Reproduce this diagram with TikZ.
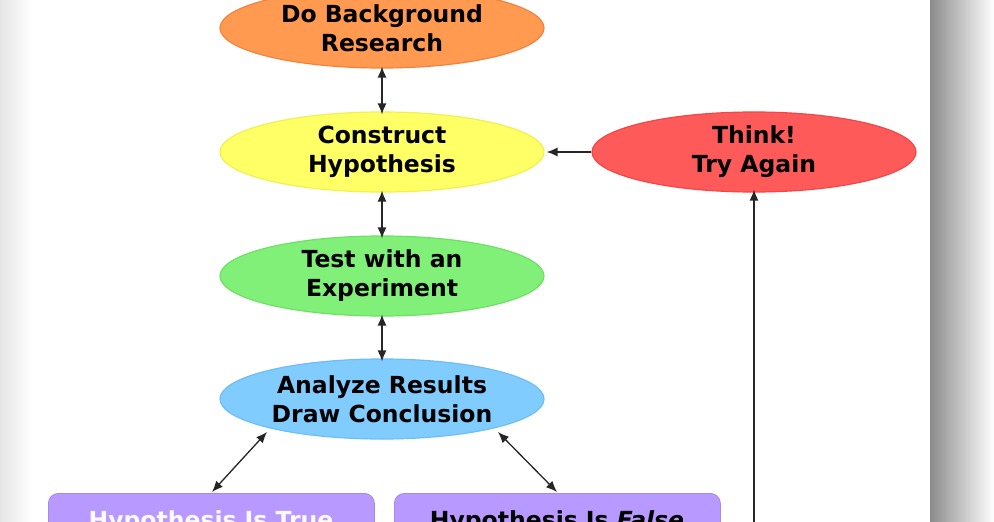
\documentclass[tikz,border=0pt]{standalone}
\usepackage{fontspec}
\setmainfont{DejaVu Sans}
\usetikzlibrary{shapes.geometric,arrows.meta}
\begin{document}
\begin{tikzpicture}[x=1pt,y=-1pt,
  ell/.style={ellipse,minimum width=324pt,minimum height=80pt,inner sep=0pt,align=center,font=\fontsize{23.5}{29}\selectfont\bfseries,line width=1.2pt},
  box/.style={rounded corners=10pt,fill=purp,draw=purp!90!black,line width=0.8pt,minimum width=326pt,minimum height=60pt,anchor=north west},
  dbl/.style={{Latex[length=11pt,width=9pt]}-{Latex[length=11pt,width=9pt]},line width=1.3pt,black!85},
  sgl/.style={-{Latex[length=11pt,width=9pt]},line width=1.3pt,black!85}]
\definecolor{purp}{HTML}{B899FF}
\useasboundingbox (0,0) rectangle (994,522);
\shade[left color=black!10,right color=white] (0,0) rectangle (32,522);
\shade[left color=black!45,right color=white] (930,0) rectangle (994,522);
\fill[white] (32,0) rectangle (930,522);
\begin{scope}
\clip (32,0) rectangle (930,522);
\node[ell,fill={rgb,255:red,255;green,154;blue,80},draw={rgb,255:red,245;green,130;blue,60}] (bg) at (382,28) {Do Background\\Research};
\node[ell,fill={rgb,255:red,255;green,255;blue,102},draw={rgb,255:red,240;green,240;blue,80}] (hy) at (382,152) {Construct\\Hypothesis};
\node[ell,fill={rgb,255:red,128;green,240;blue,120},draw={rgb,255:red,110;green,225;blue,100}] (ex) at (382,276) {Test with an\\Experiment};
\node[ell,fill={rgb,255:red,128;green,204;blue,255},draw={rgb,255:red,110;green,190;blue,245}] (an) at (382,399) {Analyze Results\\Draw Conclusion};
\node[ell,fill={rgb,255:red,255;green,90;blue,90},draw={rgb,255:red,245;green,70;blue,70}] (tk) at (754,152) {Think!\\Try Again};
\node[box] (tr) at (48,493) {};
\node[box] (fa) at (394,493) {};
\node[font=\fontsize{23.5}{29}\selectfont\bfseries,text=white!95!purp,anchor=base] (trt) at (211,528) {Hypothesis Is True};
\node[font=\fontsize{23.5}{29}\selectfont\bfseries,anchor=base] (fat) at (557,528) {Hypothesis Is \textit{False}};
\coordinate (bot) at (754,522);
\coordinate (al) at (267,432);
\coordinate (ar) at (498,432);
\coordinate (tl) at (212,492);
\coordinate (tr2) at (557,492);
\draw[dbl] ([yshift=2pt]bg.south) -- ([yshift=-3pt]hy.north);
\draw[dbl] ([yshift=2pt]hy.south) -- ([yshift=-3pt]ex.north);
\draw[dbl] ([yshift=2pt]ex.south) -- ([yshift=-3pt]an.north);
\draw[sgl] (tk.west) -- ([xshift=2pt]hy.east);
\draw[sgl] (bot) -- ([yshift=3pt]tk.south);
\draw[dbl] (al) -- (tl);
\draw[dbl] (ar) -- (tr2);
\end{scope}
\end{tikzpicture}
\end{document}
